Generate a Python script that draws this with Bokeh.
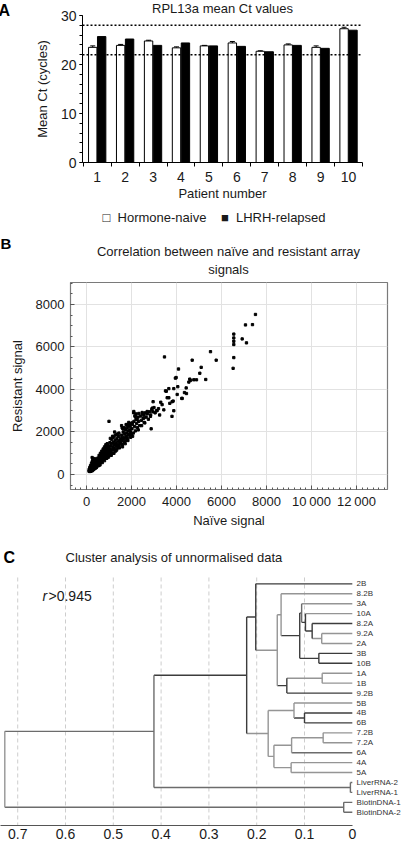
from bokeh.plotting import figure
from bokeh.layouts import column
from bokeh.models import (Range1d, FixedTicker, Span, Label,
                          ColumnDataSource, Whisker, TeeHead)
from bokeh.core.properties import value
from bokeh.embed import file_html
from bokeh.resources import INLINE

FONT = "Liberation Sans"
INK = "#1a1a1a"
NB = "\u00a0"

# ---------------- Panel A: RPL13a mean Ct per patient ----------------
patients = [1, 2, 3, 4, 5, 6, 7, 8, 9, 10]
ct_naive = [23.5, 23.9, 24.8, 23.4, 23.8, 24.4, 22.7, 24.0, 23.5, 27.3]
ct_naive_sd = [0.3, 0.2, 0.15, 0.2, 0.1, 0.3, 0.1, 0.2, 0.3, 0.3]
ct_relapsed = [25.7, 25.2, 23.9, 24.4, 23.8, 23.7, 22.6, 23.9, 23.3, 27.0]
ct_band = [22, 28]
ct_ticks = [0, 10, 20, 30]
series_names = ["Hormone-naive", "LHRH-relapsed"]

# ---------------- Panel B: naive vs resistant array signal ----------------
naive_signal = [
    110, 130, 140, 150, 160, 170, 180, 190, 200, 210, 220, 230, 240, 250, 260, 270, 280, 290, 300, 310,
    320, 330, 340, 350, 360, 370, 380, 390, 400, 410, 420, 430, 440, 450, 460, 470, 480, 490, 500, 150,
    180, 200, 220, 250, 260, 280, 300, 320, 340, 360, 380, 400, 420, 440, 460, 480, 250, 300, 350, 120,
    170, 230, 270, 330, 390, 450,
    510, 520, 530, 540, 550, 560, 570, 580, 590, 600, 610, 620, 630, 640, 650, 660, 670, 680, 690, 700,
    710, 720, 730, 740, 750, 760, 770, 780, 790, 800, 810, 820, 830, 840, 850, 860, 870, 880, 890, 900,
    910, 920, 930, 940, 950, 960, 970, 980, 990, 1000, 560, 620, 680, 740, 800, 860, 920, 600, 700, 800,
    900, 980, 540, 660, 760,
    1010, 1030, 1050, 1070, 1090, 1110, 1130, 1150, 1170, 1190, 1210, 1230, 1250, 1270, 1290, 1310, 1330,
    1350, 1370, 1390, 1410, 1430, 1450, 1470, 1490, 1040, 1120, 1200, 1280, 1360, 1440, 1100, 1220, 1340,
    1460, 1000, 1060, 1160, 1250,
    1510, 1530, 1550, 1570, 1590, 1610, 1630, 1650, 1670, 1690, 1710, 1730, 1750, 1770, 1790, 1810, 1830,
    1850, 1870, 1890, 1910, 1930, 1950, 1970, 1990, 1560, 1680, 1760, 1880, 1600, 1720, 1840, 1960, 1620,
    1940, 1585, 1807,
    2020, 2050, 2080, 2110, 2140, 2170, 2200, 2230, 2260, 2290, 2320, 2360, 2400, 2440, 2480, 2520, 2560,
    2600, 2650, 2700, 2750, 2800, 2850, 2900, 2950, 3000, 2100, 2200, 2150, 2050, 2300, 2450, 2550, 2873,
    2918, 2960, 3110, 2695, 2843, 2473, 2177, 2103, 2325, 2547, 2592, 2250, 2030,
    3140, 3360, 3546, 3660, 3806, 3702, 3880, 3800, 3437, 3951, 3880, 4058, 3984, 4030, 4354, 4250, 4443,
    4089, 4590, 4548, 4770, 5300, 5036, 5097, 4697, 5511, 5764, 6516, 6547, 6547, 6547, 6547, 6547, 6919,
    7110, 7066, 7377, 7510, 3200, 3300, 3585, 3659, 3511, 3851, 4237, 4430, 4889, 3050, 3250, 3466, 4622,
]
resistant_signal = [
    160, 210, 140, 260, 190, 230, 300, 170, 250, 330, 210, 280, 360, 230, 310, 400, 260, 340, 430, 290,
    370, 470, 320, 410, 280, 450, 360, 520, 400, 470, 350, 540, 430, 500, 390, 580, 460, 530, 420, 330,
    420, 150, 520, 600, 180, 700, 220, 560, 640, 520, 290, 600, 680, 330, 620, 760, 800, 650, 750, 250,
    350, 420, 330, 250, 310, 360,
    600, 480, 680, 560, 420, 740, 620, 500, 800, 680, 560, 860, 720, 600, 920, 780, 640, 980, 820, 700,
    1020, 880, 740, 1080, 920, 800, 1120, 960, 840, 1000, 1180, 880, 1050, 760, 1220, 1000, 900, 1260, 1060, 940,
    1300, 1100, 820, 1150, 1000, 1350, 1080, 900, 1200, 1050, 900, 1000, 1100, 1200, 1300, 1400, 1450, 450, 560, 650,
    760, 820, 780, 880, 1000,
    1250, 950, 1150, 1350, 1050, 1450, 1180, 1000, 1300, 1520, 1150, 1400, 1250, 1600, 1100, 1450, 1350,
    1700, 1250, 1550, 1400, 1800, 1350, 1600, 1500, 1500, 1650, 1750, 1850, 1900, 1950, 900, 1000, 1150,
    1250, 2500, 1700, 1800, 2000,
    1700, 1450, 1850, 1600, 1400, 1750, 2000, 1650, 1500, 1900, 1750, 2100, 1600, 1950, 1800, 2200, 1700,
    2050, 1900, 2300, 1850, 2100, 2000, 2400, 1900, 2300, 2200, 2350, 2450, 1300, 1450, 1600, 1750, 2150,
    2250, 2196, 2350,
    2150, 2350, 1950, 2500, 2250, 2050, 2600, 2400, 2200, 2700, 2500, 2300, 2750, 2550, 2850, 2650, 2450,
    2900, 2700, 2850, 2600, 2950, 2800, 3050, 2950, 3150, 2900, 2850, 2750, 1800, 2100, 2300, 2800, 2150,
    3118, 3425, 3000, 2965, 2735, 2918, 2735, 2965, 2873, 2657, 2427, 2580, 2427,
    3010, 3287, 3917, 3610, 3425, 3349, 3000, 2735, 3041, 4534, 4041, 4131, 4562, 3765, 3855, 3578, 3809,
    4962, 4487, 4349, 4456, 4470, 4764, 5041, 5378, 5778, 5378, 4995, 5500, 6114, 6268, 6423, 6606, 6377,
    6193, 7036, 7051, 7529, 3100, 3400, 3612, 4041, 3935, 3456, 3580, 4073, 4456, 2900, 2800, 5530, 4424,
]
signal_ticks = [0, 2000, 4000, 6000, 8000, 10000, 12000]
resistant_ticks = [0, 2000, 4000, 6000, 8000]

# ---------------- Panel C: hierarchical clustering ----------------
leaf_names = ["2B", "8.2B", "3A", "10A", "8.2A", "9.2A", "2A", "3B", "10B", "1A", "1B", "9.2B",
              "5B", "4B", "6B", "7.2B", "7.2A", "6A", "4A", "5A", "LiverRNA-2", "LiverRNA-1",
              "BiotinDNA-1", "BiotinDNA-2"]
# each link joins two children (leaf name or index of an earlier link) at a distance
link_left = ["9.2A", "8.2A", "10A", "3A", "3B", 3, "8.2B", "1A", 7, 6, "2B",
             "4B", "5B", "7.2B", 13, "4A", 14, 12, 10, "LiverRNA-2", 18, "BiotinDNA-1", 20]
link_right = ["2A", 0, 1, 2, "10B", 4, 5, "1B", "9.2B", 8, 9,
              "6B", 11, "7.2A", "6A", "5A", 15, 16, 17, "LiverRNA-1", 19, "BiotinDNA-2", 21]
link_height = [0.064, 0.084, 0.098, 0.106, 0.070, 0.110, 0.149, 0.063, 0.137, 0.157, 0.202,
               0.100, 0.122, 0.061, 0.127, 0.128, 0.164, 0.176, 0.221, 0.004, 0.415, 0.018, 0.727]
distance_ticks = [0, 0.1, 0.2, 0.3, 0.4, 0.5, 0.6, 0.7]
correlation_note = ">0.945"

DARK, MID, LIGHT = "#3c3c3c", "#6c6c6c", "#959595"
leaf_shade = [DARK, LIGHT, LIGHT, LIGHT, DARK, LIGHT, LIGHT, DARK, DARK, LIGHT, LIGHT, DARK,
              LIGHT, DARK, DARK, LIGHT, LIGHT, MID, LIGHT, LIGHT, MID, MID, MID, MID]
link_shade = [LIGHT, DARK, DARK, MID, DARK, DARK, LIGHT, LIGHT, DARK, LIGHT, DARK,
              DARK, LIGHT, LIGHT, LIGHT, LIGHT, LIGHT, LIGHT, DARK, MID, MID, MID, LIGHT]


def style_axis(ax, size="14px"):
    ax.major_label_text_font = FONT
    ax.major_label_text_font_size = size
    ax.major_label_text_color = INK
    ax.axis_label_text_font = FONT
    ax.axis_label_text_font_style = "normal"
    ax.axis_label_text_font_size = "13px"
    ax.axis_label_text_color = INK


def text_label(p, x, y, text, size="13px", align="left", style="normal", color=INK, side=None):
    lab = Label(x=x, y=y, x_units="screen", y_units="screen", text=text,
                text_font=FONT, text_font_size=size, text_font_style=style,
                text_align=align, text_baseline="middle", text_color=color)
    if side is None:
        p.add_layout(lab)
    else:
        p.add_layout(lab, side)


def free_frame(p):
    # keep each panel's own borders instead of lining frames up across the column
    if "frame_align" in p.properties():
        p.frame_align = False


# ===== A =====
pa = figure(width=402, height=228, x_range=Range1d(0.474, 10.5), y_range=Range1d(0, 30),
            output_backend="svg", toolbar_location=None,
            min_border_left=82, min_border_right=40, min_border_top=15, min_border_bottom=66)
free_frame(pa)
pa.outline_line_color = None
pa.xgrid.visible = False
pa.ygrid.visible = False

x_naive = [p - 0.16 for p in patients]
x_rel = [p + 0.16 for p in patients]
pa.vbar(x=x_naive, top=ct_naive, width=0.3, fill_color="white", line_color="black", line_width=1)
pa.vbar(x=x_rel, top=ct_relapsed, width=0.3, fill_color="black", line_color="black", line_width=1)
err_src = ColumnDataSource(dict(x=x_naive, lower=ct_naive,
                                upper=[v + e for v, e in zip(ct_naive, ct_naive_sd)]))
pa.add_layout(Whisker(source=err_src, base="x", lower="lower", upper="upper",
                      line_color="black", line_width=1,
                      upper_head=TeeHead(size=5, line_color="black", line_width=1),
                      lower_head=None))
for lvl in ct_band:
    pa.add_layout(Span(location=lvl, dimension="width", line_color="black",
                       line_dash="2 2", line_width=1.6))

pa.xaxis.ticker = FixedTicker(ticks=patients, minor_ticks=[p + 0.5 for p in range(0, 11)])
pa.xaxis.major_tick_out = 0
pa.xaxis.major_tick_in = 0
pa.xaxis.minor_tick_out = 4
pa.xaxis.minor_tick_in = 0
pa.xaxis.major_label_standoff = 5
pa.xaxis.axis_label = "Patient number"
pa.xaxis.axis_label_standoff = 1
pa.yaxis.ticker = FixedTicker(ticks=ct_ticks, minor_ticks=list(range(0, 31, 2)))
pa.yaxis.major_tick_out = 3
pa.yaxis.major_tick_in = 0
pa.yaxis.minor_tick_out = 3
pa.yaxis.minor_tick_in = 0
pa.yaxis.major_label_standoff = 3
pa.yaxis.axis_label = "Mean Ct (cycles)"
pa.yaxis.axis_label_standoff = 8
for ax in (pa.xaxis[0], pa.yaxis[0]):
    style_axis(ax, "14px")
    ax.axis_line_color = "black"
    ax.major_tick_line_color = "black"
    ax.minor_tick_line_color = "black"

# key line under the axis: open box for naive, filled box for relapsed
key_text = ("\u25a1" + NB * 2 + series_names[0] + NB * 4 +
            "\u25a0" + NB * 2 + series_names[1])
text_label(pa, 20, 1, key_text, side="below")
text_label(pa, 140, 7, "RPL13a mean Ct values", align="center", side="above")
text_label(pa, -21, 152, "A", size="16px", style="bold", color="black", side="left")

# ===== B =====
pb = figure(width=402, height=302, x_range=Range1d(-711, 13378), y_range=Range1d(-705, 9032),
            output_backend="svg", toolbar_location=None,
            min_border_left=70, min_border_right=15, min_border_top=54, min_border_bottom=36)
free_frame(pb)
pb.outline_line_color = "#7a7a7a"
pb.outline_line_width = 1.2
pb.scatter(naive_signal, resistant_signal, marker="square", size=2.3, color="black")

pb.xaxis.ticker = FixedTicker(ticks=signal_ticks, minor_ticks=list(range(-500, 13400, 250)))
pb.yaxis.ticker = FixedTicker(ticks=resistant_ticks, minor_ticks=list(range(-500, 9001, 500)))
pb.xaxis.major_label_overrides = {10000: "10\u2009000", 12000: "12\u2009000"}
for ax in (pb.xaxis[0], pb.yaxis[0]):
    style_axis(ax, "13px")
    ax.axis_line_color = "#7a7a7a"
    ax.major_tick_line_color = "#555555"
    ax.minor_tick_line_color = "#555555"
    ax.major_tick_out = 0
    ax.major_tick_in = 4
    ax.minor_tick_out = 0
    ax.minor_tick_in = 2
pb.xaxis.major_label_standoff = 4
pb.xaxis.axis_label = "Naïve signal"
pb.xaxis.axis_label_standoff = 1
pb.yaxis.major_label_standoff = 6
pb.yaxis.axis_label = "Resistant signal"
pb.yaxis.axis_label_standoff = 8
pb.xgrid.ticker = FixedTicker(ticks=signal_ticks)
pb.ygrid.ticker = FixedTicker(ticks=resistant_ticks)
pb.grid.grid_line_color = "#e2e2e2"
pb.grid.grid_line_width = 1

text_label(pb, 158, 22.5, "Correlation between naïve and resistant array\nsignals",
           align="center", side="above")
text_label(pb, -70, 6, "B", size="15px", style="bold", color="black", side="above")

# ===== C =====
pc = figure(width=402, height=316, x_range=Range1d(0.736, -0.105), y_range=Range1d(24.33, -5.37),
            output_backend="svg", toolbar_location=None,
            min_border_left=0, min_border_right=0, min_border_top=0, min_border_bottom=21)
free_frame(pc)
pc.outline_line_color = None
pc.yaxis.visible = False
pc.grid.visible = False

# dashed distance guides below the heading
guide_ticks = distance_ticks[1:]
pc.segment(x0=guide_ticks, y0=[-0.64] * len(guide_ticks), x1=guide_ticks,
           y1=[24.33] * len(guide_ticks), line_color="#cdcdcd", line_dash="4 3", line_width=1)

leaf_pos = {name: i for i, name in enumerate(leaf_names)}
node_y = []
x0, y0, x1, y1, seg_color = [], [], [], [], []


def child_info(c):
    if isinstance(c, str):
        return 0.0, float(leaf_pos[c]), leaf_shade[leaf_pos[c]]
    return link_height[c], node_y[c], link_shade[c]


for k, (a, b, h) in enumerate(zip(link_left, link_right, link_height)):
    xa, ya, ca = child_info(a)
    xb, yb, cb = child_info(b)
    node_y.append((ya + yb) / 2)
    for xc, yc, cc in ((xa, ya, ca), (xb, yb, cb)):
        x0.append(xc); y0.append(yc); x1.append(h); y1.append(yc); seg_color.append(cc)
    x0.append(h); y0.append(ya); x1.append(h); y1.append(yb); seg_color.append(link_shade[k])

pc.segment(x0=x0, y0=y0, x1=x1, y1=y1, line_color=seg_color, line_width=1.4)
pc.text(x=[-0.009] * len(leaf_names), y=list(range(len(leaf_names))), text=leaf_names,
        text_font=value(FONT), text_font_size="8px", text_baseline="middle",
        text_align="left", text_color="#333333")

pc.xaxis.ticker = FixedTicker(ticks=distance_ticks)
pc.xaxis.major_label_overrides = {0: "0", 0.1: "0.1", 0.2: "0.2", 0.3: "0.3",
                                  0.4: "0.4", 0.5: "0.5", 0.6: "0.6", 0.7: "0.7"}
pc.xaxis.bounds = (0, 0.736)
style_axis(pc.xaxis[0], "14px")
pc.xaxis.axis_line_color = "#555555"
pc.xaxis.major_tick_out = 0
pc.xaxis.major_tick_in = 0
pc.xaxis.minor_tick_out = 0
pc.xaxis.minor_tick_in = 0
pc.xaxis.major_label_standoff = 3

text_label(pc, 3, 268, "C", size="16px", style="bold", color="black")
text_label(pc, 65, 268, "Cluster analysis of unnormalised data")
text_label(pc, 42, 230, "r", size="14px", style="italic")
text_label(pc, 48, 230, correlation_note, size="14px")

layout = column(pa, pb, pc)
open("out.html", "w").write(file_html(layout, INLINE))
